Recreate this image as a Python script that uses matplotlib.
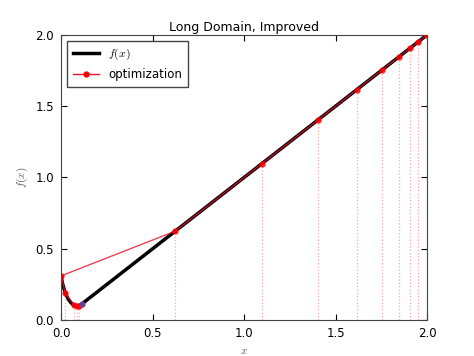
import matplotlib
matplotlib.use('Agg')
import matplotlib.pyplot as plt

plt.rcParams['mathtext.fontset'] = 'cm'

# f(x) curve (dip near zero, then f(x) = x)
fx = [0.0, 0.005, 0.01, 0.02, 0.03, 0.04, 0.05, 0.06, 0.07, 0.08, 0.09, 0.10, 0.11, 2.0]
fy = [0.31, 0.27, 0.245, 0.20, 0.17, 0.145, 0.127, 0.113, 0.105, 0.10, 0.10, 0.102, 0.11, 2.0]

# optimization samples, in evaluation order
ox = [2.0, 1.952, 1.907, 1.848, 1.752, 1.616, 1.406, 1.097, 0.623, 0.0, 0.022, 0.071, 0.086, 0.10]
oy = [2.0, 1.952, 1.907, 1.848, 1.752, 1.616, 1.406, 1.097, 0.623, 0.31, 0.19, 0.105, 0.10, 0.10]

# final point
bx = [0.113]
by = [0.113]

fig = plt.figure(figsize=(4.74, 3.56), dpi=100)
ax = fig.add_axes([0.129, 0.101, 0.772, 0.801])

ax.vlines(ox, 0, oy, colors='red', linestyles=':', lw=0.9, alpha=0.35, zorder=1)
ax.plot(fx, fy, color='black', lw=2.5, label='$f(x)$', zorder=2)
ax.plot(ox, oy, color='#e8102e', lw=1.0, marker='o', ms=3.5, mec='red', mfc='red',
        alpha=0.8, label='optimization', zorder=3)
ax.plot(bx, by, 'o', color='#6a3d9a', ms=3.5, zorder=4)

ax.set_xlim(0, 2)
ax.set_ylim(0, 2)
ax.set_xticks([0.0, 0.5, 1.0, 1.5, 2.0])
ax.set_yticks([0.0, 0.5, 1.0, 1.5, 2.0])
ax.tick_params(direction='in', top=True, right=True, labelsize=8.5, length=4, pad=5)
for s in ax.spines.values():
    s.set_color('#444444')

ax.set_title('Long Domain, Improved', fontsize=9, pad=3)
ax.set_xlabel('$x$', fontsize=8, color='#555555')
ax.set_ylabel('$f(x)$', fontsize=8, color='#555555')

leg = ax.legend(loc='upper left', fontsize=8.5, fancybox=False, framealpha=1,
                edgecolor='#444444', handlelength=2.2, borderpad=0.5)
for h in leg.legend_handles:
    h.set_alpha(1)

fig.savefig('out.png', dpi=100)
